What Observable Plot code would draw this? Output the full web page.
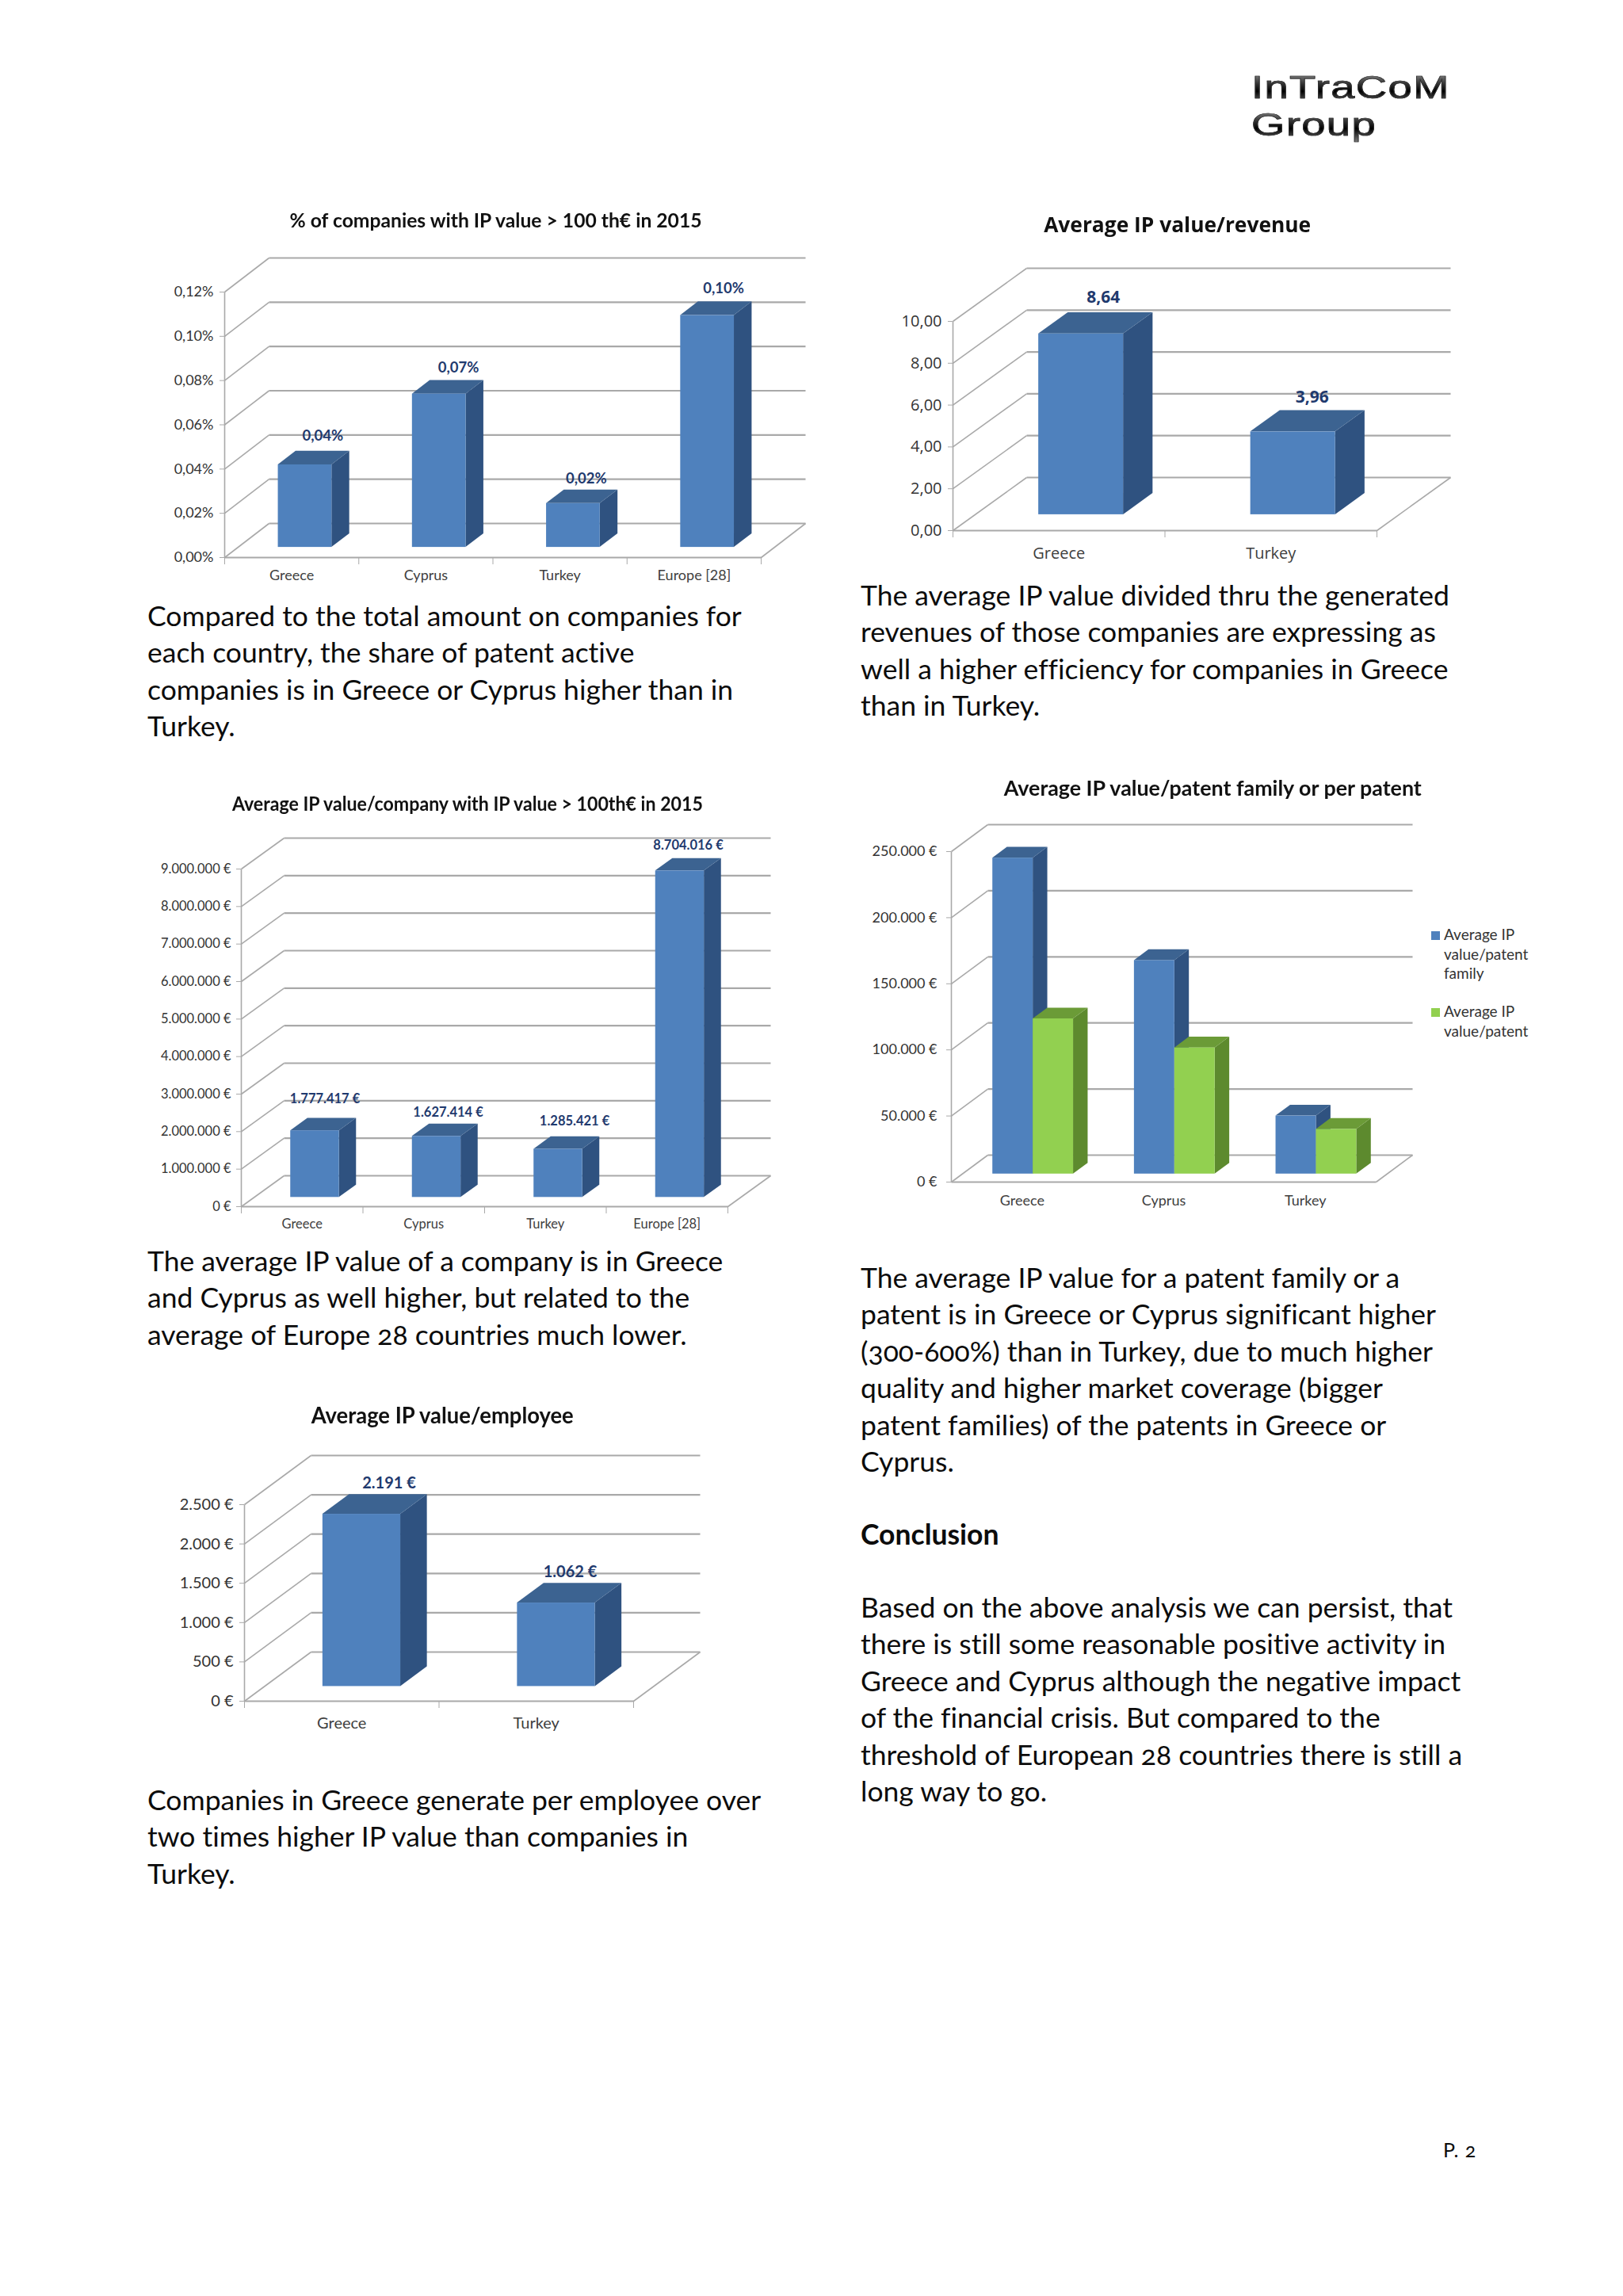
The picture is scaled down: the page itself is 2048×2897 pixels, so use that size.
<!DOCTYPE html>
<html><head><meta charset="utf-8">
<script src="https://cdn.jsdelivr.net/npm/d3@7"></script>
<script src="https://cdn.jsdelivr.net/npm/@observablehq/plot@0.6"></script>
<style>
html,body{margin:0;padding:0;background:#fff;}
#page{position:relative;width:2048px;height:2897px;overflow:hidden;font-family:Lato,"Open Sans",sans-serif;color:#0c0c0c;}
.body{position:absolute;font-size:35.5px;line-height:46.4px;white-space:nowrap;font-variant-numeric:oldstyle-nums;font-variant-ligatures:none;}
.title{position:absolute;font-weight:700;white-space:nowrap;transform-origin:center;color:#111;}
.chart{position:absolute;}
.legend{position:absolute;font-size:19px;line-height:24.5px;color:#333;}
.sw{position:absolute;width:11px;height:11px;}
.logo{position:absolute;font-family:"Liberation Sans",Lato,sans-serif;font-weight:400;white-space:nowrap;transform-origin:left top;-webkit-text-stroke:0.7px #333;
 background:linear-gradient(#aaa 0%,#333 40%,#000 60%,#888 100%);background-size:100% 47px;-webkit-background-clip:text;background-clip:text;color:transparent;}
</style></head>
<body><div id="page"></div>
<script>
// ---- data ----
const catsFour = ["Greece","Cyprus","Turkey","Europe [28]"];
const catsTwo = ["Greece","Turkey"];
const catsThree = ["Greece","Cyprus","Turkey"];

const shareValues = [0.0373,0.0693,0.0198,0.1048];
const shareLabels = ["0,04%","0,07%","0,02%","0,10%"];
const shareTicks = [0,0.02,0.04,0.06,0.08,0.10,0.12];
const shareTickLabels = ["0,00%","0,02%","0,04%","0,06%","0,08%","0,10%","0,12%"];

const revenueValues = [8.64,3.96];
const revenueLabels = ["8,64","3,96"];
const revenueTicks = [0,2,4,6,8,10];
const revenueTickLabels = ["0,00","2,00","4,00","6,00","8,00","10,00"];

const companyValues = [1777417,1627414,1285421,8704016];
const companyLabels = ["1.777.417 €","1.627.414 €","1.285.421 €","8.704.016 €"];
const companyTicks = [0,1e6,2e6,3e6,4e6,5e6,6e6,7e6,8e6,9e6];
const companyTickLabels = ["0 €","1.000.000 €","2.000.000 €","3.000.000 €","4.000.000 €","5.000.000 €","6.000.000 €","7.000.000 €","8.000.000 €","9.000.000 €"];

const familyValues = [239000,161500,43900];
const patentValues = [117400,95400,33800];
const patentTicks = [0,50000,100000,150000,200000,250000];
const patentTickLabels = ["0 €","50.000 €","100.000 €","150.000 €","200.000 €","250.000 €"];

const employeeValues = [2191,1062];
const employeeLabels = ["2.191 €","1.062 €"];
const employeeTicks = [0,500,1000,1500,2000,2500];
const employeeTickLabels = ["0 €","500 €","1.000 €","1.500 €","2.000 €","2.500 €"];

// ---- text ----
const blocks = [
 {x:186,y:754,lines:["Compared to the total amount on companies for","each country, the share of patent active","companies is in Greece or Cyprus higher than in","Turkey."]},
 {x:1086,y:728,lines:["The average IP value divided thru the generated","revenues of those companies are expressing as","well a higher efficiency for companies in Greece","than in Turkey."]},
 {x:186,y:1568,lines:["The average IP value of a company is in Greece","and Cyprus as well higher, but related to the","average of Europe 28 countries much lower."]},
 {x:1086,y:1589,lines:["The average IP value for a patent family or a","patent is in Greece or Cyprus significant higher","(300-600%) than in Turkey, due to much higher","quality and higher market coverage (bigger","patent families) of the patents in Greece or","Cyprus."]},
 {x:1086,y:1913,bold:true,lines:["Conclusion"]},
 {x:1086,y:2005,lines:["Based on the above analysis we can persist, that","there is still some reasonable positive activity in","Greece and Cyprus although the negative impact","of the financial crisis. But compared to the","threshold of European 28 countries there is still a","long way to go."]},
 {x:186,y:2248,lines:["Companies in Greece generate per employee over","two times higher IP value than companies in","Turkey."]}
];

// ---- palette ----
const BLUE = {front:"#4F81BD",top:"#3C6391",side:"#2F5280"};
const GREEN = {front:"#92D050",top:"#6B9B37",side:"#5D8A2E"};
const GRID = "#A9A9A9";

const page = document.getElementById("page");
function el(cls,css,html){const d=document.createElement("div");d.className=cls;Object.assign(d.style,css);if(html!==undefined)d.innerHTML=html;page.appendChild(d);return d;}

function chart3d(c){
  const n=c.cats.length, max=c.ticks[c.ticks.length-1];
  const box={x:c.xl-c.left,y:c.ytop-c.up,w:c.left+(c.xr-c.xl)+c.right,h:c.up+(c.y0-c.ytop)+c.down};
  const ux=c.dx/((c.xr-c.xl)/n), uy=c.dy/((c.y0-c.ytop)/max);
  const pxX=ux/c.dx, pxY=uy/c.dy;
  const marks=[];
  const tickRows=c.ticks.map(t=>({t}));
  marks.push(Plot.link(tickRows,{x1:()=>0,y1:d=>d.t,x2:()=>ux,y2:d=>d.t+uy,stroke:GRID,strokeWidth:1.6}));
  marks.push(Plot.link(tickRows,{x1:()=>ux,y1:d=>d.t+uy,x2:()=>n+ux,y2:d=>d.t+uy,stroke:GRID,strokeWidth:2.2}));
  marks.push(Plot.link([0],{x1:()=>0,y1:()=>0,x2:()=>n,y2:()=>0,stroke:GRID,strokeWidth:2.2}));
  marks.push(Plot.link([0],{x1:()=>n,y1:()=>0,x2:()=>n+ux,y2:()=>uy,stroke:GRID,strokeWidth:1.6}));
  marks.push(Plot.link([0],{x1:()=>0,y1:()=>0,x2:()=>0,y2:()=>max,stroke:GRID,strokeWidth:1.6}));
  const tl=new Map(c.ticks.map((t,i)=>[t,c.tickLabels[i]]));
  marks.push(Plot.axisY(c.ticks,{anchor:"left",label:null,tickSize:c.tickY,tickPadding:c.padY,tickFormat:d=>tl.get(d),fontSize:c.fs,stroke:GRID,fill:"#333"}));
  if(c.xTicks) marks.push(Plot.axisX(d3.range(n+1),{anchor:"bottom",label:null,tickSize:9,tickFormat:()=>"",stroke:GRID}));
  marks.push(Plot.axisX(c.cats.map((_,i)=>i+0.5),{anchor:"bottom",label:null,tickSize:0,tickPadding:c.padX,tickFormat:d=>c.cats[d-0.5],fontSize:c.fsX||c.fs,fill:"#404040",stroke:"none"}));
  const nS=c.series.length, bw=c.barW/nS, d1=0.3, d2=0.7;
  c.series.forEach((s,si)=>{
    const rows=s.values.map((v,i)=>{const a=i+(1-c.barW)/2+si*bw,b=a+bw;return {i,v,a,b};});
    const side=rows.flatMap(r=>[{id:r.i,x:r.b+d1*ux,y1:d1*uy,y2:r.v+d1*uy},{id:r.i,x:r.b+d2*ux,y1:d2*uy,y2:r.v+d2*uy}]);
    const top=rows.flatMap(r=>[{id:r.i,y:r.v+d1*uy,x1:r.a+d1*ux,x2:r.b+d1*ux},{id:r.i,y:r.v+d2*uy,x1:r.a+d2*ux,x2:r.b+d2*ux}]);
    marks.push(Plot.areaY(side,{x:"x",y1:"y1",y2:"y2",z:"id",fill:s.color.side}));
    marks.push(Plot.areaX(top,{y:"y",x1:"x1",x2:"x2",z:"id",fill:s.color.top}));
    marks.push(Plot.rect(rows,{x1:r=>r.a+d1*ux,x2:r=>r.b+d1*ux,y1:()=>d1*uy,y2:r=>r.v+d1*uy,fill:s.color.front,inset:0}));
    if(s.labels){
      const labelRows=rows.map(r=>({x:(r.a+r.b)/2+d2*ux+(c.lblX?c.lblX[r.i]:0)*pxX,y:r.v+d2*uy+c.lblY[r.i]*pxY,t:s.labels[r.i]}));
      marks.push(Plot.text(labelRows,{x:"x",y:"y",text:"t",fill:"#1F3A6E",fontWeight:"bold",fontSize:c.fsL||c.fs,lineAnchor:"middle"}));
    }
  });
  const svg=Plot.plot({
    width:box.w,height:box.h,
    marginLeft:c.left,marginRight:c.right,marginTop:c.up,marginBottom:c.down,
    x:{domain:[0,n],nice:false},y:{domain:[0,max],nice:false},
    style:{fontFamily:c.font||"Lato",background:"transparent",overflow:"visible"},
    marks
  });
  const wrap=el("chart",{left:box.x+"px",top:box.y+"px",width:box.w+"px",height:box.h+"px"});
  wrap.appendChild(svg);
  const t=el("title",{fontSize:c.titleFs+"px",fontFamily:c.titleFont||"Lato",left:c.titleX+"px",top:c.titleY+"px"},c.title);
  const w=t.getBoundingClientRect().width,h=t.getBoundingClientRect().height;
  t.style.left=(c.titleX-w/2)+"px";t.style.top=(c.titleY-h/2)+"px";
  t.style.transform="scaleX("+(c.titleW/w)+")";
}

blocks.forEach(b=>el("body",{left:b.x+"px",top:b.y+"px",fontWeight:b.bold?"700":"400"},b.lines.join("<br>")));

chart3d({title:"% of companies with IP value &gt; 100 th€ in 2015",titleX:626,titleY:277,titleW:520,titleFs:25,
 cats:catsFour,ticks:shareTicks,tickLabels:shareTickLabels,series:[{values:shareValues,labels:shareLabels,color:BLUE}],
 xl:283,xr:960,y0:703,ytop:368,dx:56,dy:43,left:90,right:70,up:60,down:50,barW:0.4,
 fs:18,padY:8,padX:16,tickY:6,xTicks:true,lblY:[19,16,14,17],lblX:[0,2,-6,-2],fsL:18.5});

chart3d({title:"Average IP value/revenue",titleX:1486,titleY:282,titleW:337,titleFs:27,titleFont:"Open Sans",font:"Open Sans",
 cats:catsTwo,ticks:revenueTicks,tickLabels:revenueTickLabels,series:[{values:revenueValues,labels:revenueLabels,color:BLUE}],
 xl:1202,xr:1737,y0:669,ytop:405,dx:93,dy:67,left:100,right:100,up:80,down:50,barW:0.4,
 fs:20,padY:8,padX:21,tickY:6,xTicks:true,lblY:[19,17],lblX:[-9,-13],fsL:21});

chart3d({title:"Average IP value/company with IP value &gt; 100th€ in 2015",titleX:590,titleY:1013,titleW:594,titleFs:24,
 cats:catsFour,ticks:companyTicks,tickLabels:companyTickLabels,series:[{values:companyValues,labels:companyLabels,color:BLUE}],
 xl:304,xr:918,y0:1522,ytop:1096,dx:54,dy:39,left:120,right:70,up:50,down:45,barW:0.4,
 fs:16.5,padY:7,padX:16,tickY:6,xTicks:true,lblY:[24,14,20,16],lblX:[-9,-7,-1,-11],fsL:16.5});

chart3d({title:"Average IP value/patent family or per patent",titleX:1530,titleY:994,titleW:527,titleFs:26,
 cats:catsThree,ticks:patentTicks,tickLabels:patentTickLabels,
 series:[{values:familyValues,color:BLUE},{values:patentValues,color:GREEN}],
 xl:1200,xr:1736,y0:1491,ytop:1074,dx:46,dy:34,left:110,right:60,up:50,down:50,barW:0.57,
 fs:18,padY:12,padX:17,tickY:6,xTicks:false,lblY:[0,0,0]});

chart3d({title:"Average IP value/employee",titleX:558,titleY:1785,titleW:331,titleFs:28,
 cats:catsTwo,ticks:employeeTicks,tickLabels:employeeTickLabels,series:[{values:employeeValues,labels:employeeLabels,color:BLUE}],
 xl:308,xr:799,y0:2146,ytop:1898,dx:84,dy:62,left:90,right:100,up:80,down:50,barW:0.4,
 fs:20,padY:8,padX:20,tickY:6,xTicks:true,lblY:[14,14],lblX:[1,-16]});

// legend of the grouped chart
el("sw",{left:"1806px",top:"1175px",background:BLUE.front});
el("legend",{left:"1822px",top:"1167px"},"Average IP<br>value/patent<br>family");
el("sw",{left:"1806px",top:"1272px",background:GREEN.front});
el("legend",{left:"1822px",top:"1264px"},"Average IP<br>value/patent");

// logo and page number
el("logo",{left:"1579px",top:"87px",fontSize:"40px",lineHeight:"47px",paddingBottom:"8px",letterSpacing:"1px",transform:"scaleX(1.36)"},"InTraCoM<br>Group");
el("body",{left:"1821px",top:"2698px",fontSize:"25px",lineHeight:"28px",letterSpacing:"1px"},"P. 2");
</script>
</body></html>
